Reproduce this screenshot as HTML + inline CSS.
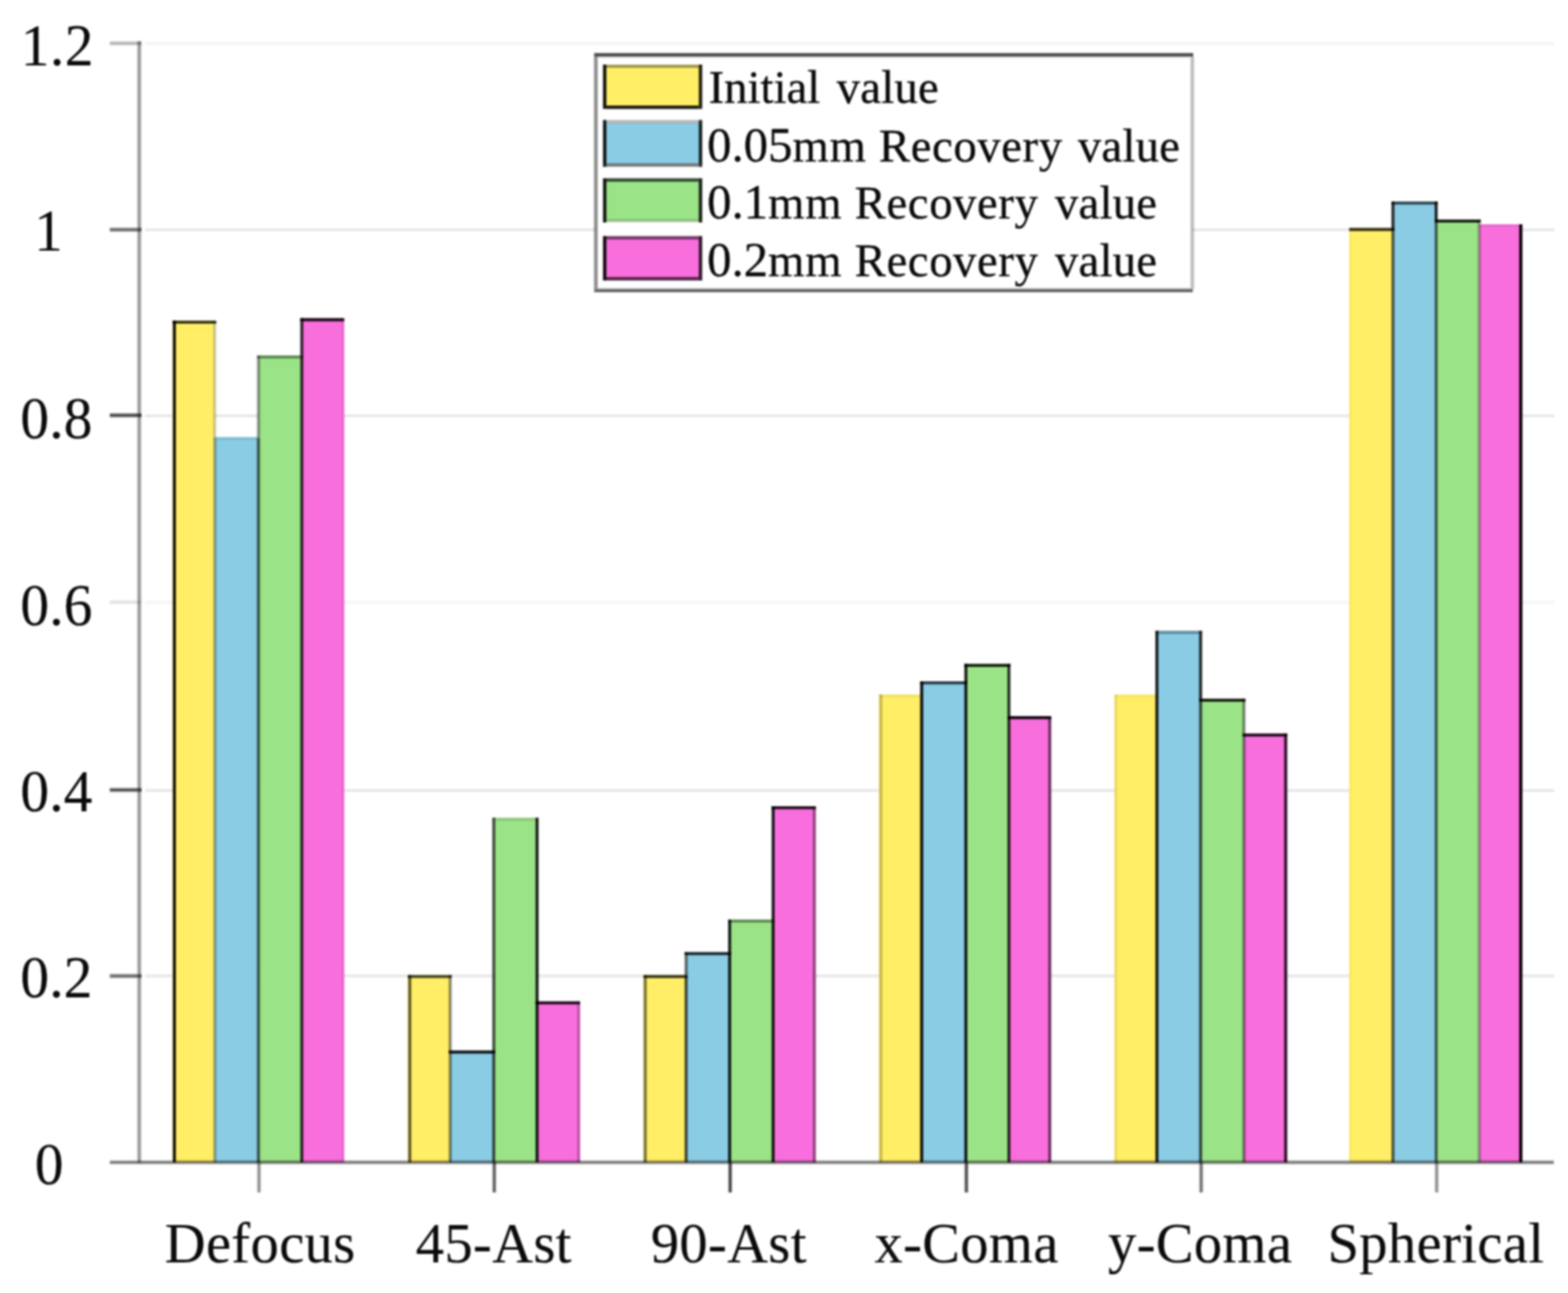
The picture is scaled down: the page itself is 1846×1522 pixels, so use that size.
<!DOCTYPE html>
<html lang="en"><head><meta charset="utf-8"><title>Recovery value bar chart</title>
<style>
html,body{margin:0;padding:0;background:#fff;}
body{width:1846px;height:1522px;overflow:hidden;}
svg{display:block;}
text{font-family:"Liberation Serif","DejaVu Serif",serif;fill:#0a0a0a;stroke:#0a0a0a;stroke-width:0.2px;}
.ay{font-size:67.5px;}
.ax{font-size:66.5px;}
.lg{font-size:55px;stroke-width:0.35px;}
.dg{font-size:57.5px;}
</style></head><body>
<svg width="1846" height="1522" viewBox="0 0 1846 1522" role="img" aria-label="Grouped bar chart of initial and recovery values">
<defs><filter id="b" color-interpolation-filters="sRGB" x="-2%" y="-2%" width="104%" height="104%"><feGaussianBlur stdDeviation="0.85"/></filter>
<filter id="t" color-interpolation-filters="sRGB" x="-2%" y="-2%" width="104%" height="104%"><feGaussianBlur stdDeviation="0.90"/></filter></defs>
<rect width="1846" height="1522" fill="#fff"/>
<g filter="url(#b)">
<g id="grid">
<line x1="171" x2="1830" y1="51.3" y2="51.3" stroke="#f3f3f3" stroke-width="3.6"/>
<line x1="171" x2="1830" y1="270.5" y2="270.5" stroke="#e8e8e8" stroke-width="3.6"/>
<line x1="171" x2="1830" y1="489.5" y2="489.5" stroke="#e8e8e8" stroke-width="3.6"/>
<line x1="171" x2="1830" y1="709.0" y2="709.0" stroke="#f5f5f5" stroke-width="3.6"/>
<line x1="171" x2="1830" y1="930.5" y2="930.5" stroke="#e8e8e8" stroke-width="3.6"/>
<line x1="171" x2="1830" y1="1148.8" y2="1148.8" stroke="#e8e8e8" stroke-width="3.6"/>
</g>
<g id="bars">
<rect x="203.0" y="377.4" width="49.8" height="990.8" fill="#ffee66"/>
<rect x="252.8" y="514.5" width="51.5" height="853.7" fill="#89cce4"/>
<rect x="304.3" y="418.4" width="51.0" height="949.8" fill="#9be387"/>
<rect x="355.3" y="374.6" width="50.0" height="993.6" fill="#f86edc"/>
<rect x="480.0" y="1147.7" width="50.0" height="220.5" fill="#ffee66"/>
<rect x="530.0" y="1236.6" width="51.3" height="131.6" fill="#89cce4"/>
<rect x="581.3" y="962.6" width="51.0" height="405.6" fill="#9be387"/>
<rect x="632.3" y="1178.7" width="50.7" height="189.5" fill="#f86edc"/>
<rect x="757.6" y="1147.7" width="50.1" height="220.5" fill="#ffee66"/>
<rect x="807.7" y="1120.7" width="51.3" height="247.5" fill="#89cce4"/>
<rect x="859.0" y="1082.5" width="51.2" height="285.7" fill="#9be387"/>
<rect x="910.2" y="949.0" width="50.2" height="419.2" fill="#f86edc"/>
<rect x="1034.6" y="817.5" width="50.5" height="550.7" fill="#ffee66"/>
<rect x="1085.1" y="801.9" width="52.0" height="566.3" fill="#89cce4"/>
<rect x="1137.1" y="781.4" width="50.7" height="586.8" fill="#9be387"/>
<rect x="1187.8" y="842.9" width="49.7" height="525.3" fill="#f86edc"/>
<rect x="1312.0" y="817.5" width="50.0" height="550.7" fill="#ffee66"/>
<rect x="1362.0" y="742.6" width="51.5" height="625.6" fill="#89cce4"/>
<rect x="1413.5" y="822.4" width="51.0" height="545.8" fill="#9be387"/>
<rect x="1464.5" y="863.4" width="50.9" height="504.8" fill="#f86edc"/>
<rect x="1588.4" y="268.3" width="51.5" height="1099.9" fill="#ffee66"/>
<rect x="1639.9" y="237.2" width="50.9" height="1131.0" fill="#89cce4"/>
<rect x="1690.8" y="258.4" width="50.7" height="1109.8" fill="#9be387"/>
<rect x="1741.5" y="264.0" width="50.9" height="1104.2" fill="#f86edc"/>
</g>
<g id="edges" stroke="#000" stroke-width="3.6" fill="none">
<line x1="203.0" x2="254.6" y1="379.2" y2="379.2" stroke-opacity="0.80"/>
<line x1="251.0" x2="306.1" y1="516.3" y2="516.3" stroke-opacity="0.08"/>
<line x1="302.5" x2="357.1" y1="420.2" y2="420.2" stroke-opacity="0.40"/>
<line x1="353.5" x2="405.3" y1="376.4" y2="376.4" stroke-opacity="0.88"/>
<line x1="205.3" x2="205.3" y1="377.4" y2="1368.2" stroke-opacity="0.92"/>
<line x1="252.8" x2="252.8" y1="377.4" y2="516.3" stroke-opacity="0.20"/>
<line x1="252.8" x2="252.8" y1="516.3" y2="1368.2" stroke-opacity="0.30"/>
<line x1="304.3" x2="304.3" y1="418.4" y2="516.3" stroke-opacity="0.40"/>
<line x1="304.3" x2="304.3" y1="516.3" y2="1368.2" stroke-opacity="0.62"/>
<line x1="355.3" x2="355.3" y1="374.6" y2="1368.2" stroke-opacity="0.80"/>
<line x1="403.6" x2="403.6" y1="374.6" y2="1368.2" stroke-opacity="0.06"/>
<line x1="480.0" x2="531.8" y1="1149.5" y2="1149.5" stroke-opacity="0.72"/>
<line x1="528.2" x2="583.1" y1="1238.4" y2="1238.4" stroke-opacity="0.88"/>
<line x1="579.5" x2="634.1" y1="964.4" y2="964.4" stroke-opacity="0.10"/>
<line x1="630.5" x2="683.0" y1="1180.5" y2="1180.5" stroke-opacity="0.88"/>
<line x1="482.4" x2="482.4" y1="1147.7" y2="1368.2" stroke-opacity="0.62"/>
<line x1="530.0" x2="530.0" y1="1147.7" y2="1368.2" stroke-opacity="0.45"/>
<line x1="581.3" x2="581.3" y1="962.6" y2="1368.2" stroke-opacity="0.68"/>
<line x1="632.3" x2="632.3" y1="962.6" y2="1368.2" stroke-opacity="0.88"/>
<line x1="681.2" x2="681.2" y1="1178.7" y2="1368.2" stroke-opacity="0.22"/>
<line x1="757.6" x2="809.5" y1="1149.5" y2="1149.5" stroke-opacity="0.78"/>
<line x1="805.9" x2="860.8" y1="1122.5" y2="1122.5" stroke-opacity="0.82"/>
<line x1="857.2" x2="912.0" y1="1084.3" y2="1084.3" stroke-opacity="0.40"/>
<line x1="908.4" x2="960.4" y1="950.8" y2="950.8" stroke-opacity="0.88"/>
<line x1="759.6" x2="759.6" y1="1147.7" y2="1368.2" stroke-opacity="0.52"/>
<line x1="807.7" x2="807.7" y1="1120.7" y2="1149.5" stroke-opacity="0.55"/>
<line x1="807.7" x2="807.7" y1="1149.5" y2="1368.2" stroke-opacity="0.68"/>
<line x1="859.0" x2="859.0" y1="1082.5" y2="1368.2" stroke-opacity="0.88"/>
<line x1="910.2" x2="910.2" y1="949.0" y2="1368.2" stroke-opacity="0.88"/>
<line x1="958.7" x2="958.7" y1="949.0" y2="1368.2" stroke-opacity="0.40"/>
<line x1="1034.6" x2="1086.9" y1="819.3" y2="819.3" stroke-opacity="0.05"/>
<line x1="1083.3" x2="1138.9" y1="803.7" y2="803.7" stroke-opacity="0.72"/>
<line x1="1135.3" x2="1189.6" y1="783.2" y2="783.2" stroke-opacity="0.88"/>
<line x1="1186.0" x2="1237.5" y1="844.7" y2="844.7" stroke-opacity="0.96"/>
<line x1="1037.0" x2="1037.0" y1="817.5" y2="1368.2" stroke-opacity="0.22"/>
<line x1="1085.1" x2="1085.1" y1="801.9" y2="1368.2" stroke-opacity="0.92"/>
<line x1="1137.1" x2="1137.1" y1="781.4" y2="1368.2" stroke-opacity="0.88"/>
<line x1="1187.8" x2="1187.8" y1="781.4" y2="1368.2" stroke-opacity="0.80"/>
<line x1="1235.8" x2="1235.8" y1="842.9" y2="1368.2" stroke-opacity="0.55"/>
<line x1="1312.0" x2="1363.8" y1="819.3" y2="819.3" stroke-opacity="0.03"/>
<line x1="1360.2" x2="1415.3" y1="744.4" y2="744.4" stroke-opacity="0.30"/>
<line x1="1411.7" x2="1466.3" y1="824.2" y2="824.2" stroke-opacity="0.88"/>
<line x1="1462.7" x2="1515.4" y1="865.2" y2="865.2" stroke-opacity="0.88"/>
<line x1="1313.5" x2="1313.5" y1="817.5" y2="1368.2" stroke-opacity="0.08"/>
<line x1="1362.0" x2="1362.0" y1="742.6" y2="1368.2" stroke-opacity="0.88"/>
<line x1="1413.5" x2="1413.5" y1="742.6" y2="824.2" stroke-opacity="0.82"/>
<line x1="1413.5" x2="1413.5" y1="824.2" y2="1368.2" stroke-opacity="0.68"/>
<line x1="1464.5" x2="1464.5" y1="822.4" y2="1368.2" stroke-opacity="0.46"/>
<line x1="1513.6" x2="1513.6" y1="863.4" y2="1368.2" stroke-opacity="0.82"/>
<line x1="1588.4" x2="1641.7" y1="270.1" y2="270.1" stroke-opacity="0.78"/>
<line x1="1638.1" x2="1692.6" y1="239.0" y2="239.0" stroke-opacity="0.66"/>
<line x1="1689.0" x2="1743.3" y1="260.2" y2="260.2" stroke-opacity="0.88"/>
<line x1="1739.7" x2="1792.4" y1="265.8" y2="265.8" stroke-opacity="0.05"/>
<line x1="1590.0" x2="1590.0" y1="268.3" y2="1368.2" stroke-opacity="0.02"/>
<line x1="1639.9" x2="1639.9" y1="237.2" y2="270.1" stroke-opacity="0.80"/>
<line x1="1639.9" x2="1639.9" y1="270.1" y2="1368.2" stroke-opacity="0.62"/>
<line x1="1690.8" x2="1690.8" y1="237.2" y2="260.2" stroke-opacity="0.85"/>
<line x1="1690.8" x2="1690.8" y1="260.2" y2="1368.2" stroke-opacity="0.58"/>
<line x1="1741.5" x2="1741.5" y1="258.4" y2="1368.2" stroke-opacity="0.30"/>
<line x1="1790.4" x2="1790.4" y1="264.0" y2="1368.2" stroke-opacity="1.00"/>
</g>
<g id="axes" fill="none" stroke="#000">
<line x1="164.0" x2="164.0" y1="48.4" y2="1368.8" stroke-opacity="0.20" stroke-width="5.4"/>
<line x1="163.9" x2="163.9" y1="48.4" y2="1368.8" stroke-opacity="0.32" stroke-width="2.4"/>
<line x1="129.3" x2="1829.3" y1="1368.2" y2="1368.2" stroke-opacity="0.28" stroke-width="4.8"/>
<line x1="129.3" x2="1829.3" y1="1368.2" y2="1368.2" stroke-opacity="0.36" stroke-width="2.4"/>
<line x1="129.3" x2="166.6" y1="51.0" y2="51.0" stroke-opacity="0.17" stroke-width="5.2"/>
<line x1="129.3" x2="166.6" y1="51.0" y2="51.0" stroke-opacity="0.20" stroke-width="2.2"/>
<line x1="129.3" x2="166.6" y1="270.4" y2="270.4" stroke-opacity="0.32" stroke-width="5.2"/>
<line x1="129.3" x2="166.6" y1="270.4" y2="270.4" stroke-opacity="0.45" stroke-width="2.2"/>
<line x1="129.3" x2="166.6" y1="488.8" y2="488.8" stroke-opacity="0.40" stroke-width="5.2"/>
<line x1="129.3" x2="166.6" y1="488.8" y2="488.8" stroke-opacity="0.62" stroke-width="2.2"/>
<line x1="129.3" x2="166.6" y1="708.8" y2="708.8" stroke-opacity="0.06" stroke-width="5.2"/>
<line x1="129.3" x2="166.6" y1="708.8" y2="708.8" stroke-opacity="0.07" stroke-width="2.2"/>
<line x1="129.3" x2="166.6" y1="929.9" y2="929.9" stroke-opacity="0.38" stroke-width="5.2"/>
<line x1="129.3" x2="166.6" y1="929.9" y2="929.9" stroke-opacity="0.58" stroke-width="2.2"/>
<line x1="129.3" x2="166.6" y1="1148.9" y2="1148.9" stroke-opacity="0.32" stroke-width="5.2"/>
<line x1="129.3" x2="166.6" y1="1148.9" y2="1148.9" stroke-opacity="0.45" stroke-width="2.2"/>
<line x1="304.9" x2="304.9" y1="1368.2" y2="1403.6" stroke-opacity="0.24" stroke-width="4.8"/>
<line x1="304.9" x2="304.9" y1="1368.2" y2="1403.6" stroke-opacity="0.30" stroke-width="2.4"/>
<line x1="581.9" x2="581.9" y1="1368.2" y2="1403.6" stroke-opacity="0.34" stroke-width="4.8"/>
<line x1="581.9" x2="581.9" y1="1368.2" y2="1403.6" stroke-opacity="0.50" stroke-width="2.4"/>
<line x1="859.6" x2="859.6" y1="1368.2" y2="1403.6" stroke-opacity="0.40" stroke-width="4.8"/>
<line x1="859.6" x2="859.6" y1="1368.2" y2="1403.6" stroke-opacity="0.62" stroke-width="2.4"/>
<line x1="1137.7" x2="1137.7" y1="1368.2" y2="1403.6" stroke-opacity="0.38" stroke-width="4.8"/>
<line x1="1137.7" x2="1137.7" y1="1368.2" y2="1403.6" stroke-opacity="0.58" stroke-width="2.4"/>
<line x1="1414.1" x2="1414.1" y1="1368.2" y2="1403.6" stroke-opacity="0.30" stroke-width="4.8"/>
<line x1="1414.1" x2="1414.1" y1="1368.2" y2="1403.6" stroke-opacity="0.42" stroke-width="2.4"/>
<line x1="1691.4" x2="1691.4" y1="1368.2" y2="1403.6" stroke-opacity="0.23" stroke-width="4.8"/>
<line x1="1691.4" x2="1691.4" y1="1368.2" y2="1403.6" stroke-opacity="0.30" stroke-width="2.4"/>
</g>
<g id="legend">
<rect x="701.5" y="64.4" width="701.8" height="277.5" fill="#fff"/>
<g stroke="#000" fill="none">
<line x1="699.5" x2="1404.8" y1="64.4" y2="64.4" stroke-width="4.0" stroke-opacity="0.72"/>
<line x1="703.5" x2="1401.3" y1="67.2" y2="67.2" stroke-width="2.0" stroke-opacity="0.13"/>
<line x1="699.5" x2="1404.3" y1="342.1" y2="342.1" stroke-width="3.6" stroke-opacity="0.60"/>
<line x1="703.5" x2="1401.3" y1="339.5" y2="339.5" stroke-width="2.0" stroke-opacity="0.13"/>
<line x1="701.5" x2="701.5" y1="66.4" y2="339.9" stroke-width="4.2" stroke-opacity="0.45"/>
<line x1="1403.7" x2="1403.7" y1="66.4" y2="340.3" stroke-width="4.2" stroke-opacity="0.25"/>
</g>
<rect x="710.7" y="76.6" width="115.2" height="49.8" fill="#ffee66"/>
<g stroke="#000" stroke-width="4.1" fill="none">
<line x1="713.9" x2="822.7" y1="78.0" y2="78.0" stroke-opacity="0.35"/>
<line x1="713.9" x2="822.7" y1="126.2" y2="126.2" stroke-opacity="0.90"/>
<line x1="824.7" x2="824.7" y1="76.0" y2="128.2" stroke-opacity="0.86"/>
<line x1="711.9" x2="711.9" y1="76.0" y2="128.2" stroke-opacity="0.90"/>
</g>
<rect x="710.7" y="145.0" width="115.2" height="47.7" fill="#89cce4"/>
<g stroke="#000" stroke-width="4.1" fill="none">
<line x1="713.9" x2="822.7" y1="143.3" y2="143.3" stroke-opacity="0.28"/>
<line x1="713.9" x2="822.7" y1="194.3" y2="194.3" stroke-opacity="0.52"/>
<line x1="824.7" x2="824.7" y1="141.2" y2="196.4" stroke-opacity="0.84"/>
<line x1="711.9" x2="711.9" y1="141.2" y2="196.4" stroke-opacity="0.88"/>
</g>
<rect x="710.7" y="210.3" width="115.2" height="50.3" fill="#9be387"/>
<g stroke="#000" stroke-width="4.1" fill="none">
<line x1="713.9" x2="822.7" y1="211.9" y2="211.9" stroke-opacity="0.64"/>
<line x1="713.9" x2="822.7" y1="259.9" y2="259.9" stroke-opacity="0.14"/>
<line x1="824.7" x2="824.7" y1="209.8" y2="261.9" stroke-opacity="0.84"/>
<line x1="711.9" x2="711.9" y1="209.8" y2="261.9" stroke-opacity="0.88"/>
</g>
<rect x="710.7" y="278.3" width="115.2" height="51.5" fill="#f86edc"/>
<g stroke="#000" stroke-width="4.1" fill="none">
<line x1="713.9" x2="822.7" y1="279.9" y2="279.9" stroke-opacity="0.50"/>
<line x1="713.9" x2="822.7" y1="328.1" y2="328.1" stroke-opacity="0.64"/>
<line x1="824.7" x2="824.7" y1="277.8" y2="330.2" stroke-opacity="0.80"/>
<line x1="711.9" x2="711.9" y1="277.8" y2="330.2" stroke-opacity="0.90"/>
</g>
</g>
</g>
<g id="labels" filter="url(#t)">
<text class="ay" transform="translate(24.5 77.4) scale(1 1.030)" style="letter-spacing:0.60px">1.2</text>
<text class="ay" transform="translate(40.3 295.5) scale(1 1.030)">1</text>
<text class="ay" transform="translate(24.0 516.4) scale(1 1.030)" style="letter-spacing:0.20px">0.8</text>
<text class="ay" transform="translate(24.0 736.0) scale(1 1.030)" style="letter-spacing:0.20px">0.6</text>
<text class="ay" transform="translate(24.0 955.5) scale(1 1.030)" style="letter-spacing:0.20px">0.4</text>
<text class="ay" transform="translate(24.0 1173.5) scale(1 1.030)" style="letter-spacing:0.20px">0.2</text>
<text class="ay" transform="translate(41.0 1394.0) scale(1 1.030)">0</text>
<text class="ax" transform="translate(306.3 1486.2) scale(1 1.030)" text-anchor="middle" style="letter-spacing:0.45px">Defocus</text>
<text class="ax" transform="translate(581.3 1486.2) scale(1 1.030)" text-anchor="middle" style="letter-spacing:0.45px">45-Ast</text>
<text class="ax" transform="translate(858.0 1486.2) scale(1 1.030)" text-anchor="middle" style="letter-spacing:0.45px">90-Ast</text>
<text class="ax" transform="translate(1138.0 1486.2) scale(1 1.030)" text-anchor="middle" style="letter-spacing:0.45px">x-Coma</text>
<text class="ax" transform="translate(1413.0 1486.2) scale(1 1.030)" text-anchor="middle" style="letter-spacing:0.45px">y-Coma</text>
<text class="ax" transform="translate(1690.5 1486.2) scale(1 1.030)" text-anchor="middle" style="letter-spacing:0.45px">Spherical</text>
<text class="lg" transform="translate(0 120.5) scale(1 0.980)"><tspan x="834.3">Initial</tspan> <tspan x="985.0" style="letter-spacing:0.3px">value</tspan></text>
<text class="lg" transform="translate(0 189.5) scale(1 0.980)"><tspan x="832.4" class="dg">0.05</tspan><tspan style="letter-spacing:1.0px">mm</tspan> <tspan x="1034.8" style="letter-spacing:0.7px">Recovery</tspan> <tspan x="1269.0" style="letter-spacing:0.3px">value</tspan></text>
<text class="lg" transform="translate(0 257.0) scale(1 0.980)"><tspan x="832.4" class="dg">0.1</tspan><tspan style="letter-spacing:1.0px">mm</tspan> <tspan x="1006.3" style="letter-spacing:0.7px">Recovery</tspan> <tspan x="1242.0" style="letter-spacing:0.3px">value</tspan></text>
<text class="lg" transform="translate(0 325.0) scale(1 0.980)"><tspan x="832.4" class="dg">0.2</tspan><tspan style="letter-spacing:1.0px">mm</tspan> <tspan x="1006.3" style="letter-spacing:0.7px">Recovery</tspan> <tspan x="1242.0" style="letter-spacing:0.3px">value</tspan></text>
</g>
</svg>
</body></html>
